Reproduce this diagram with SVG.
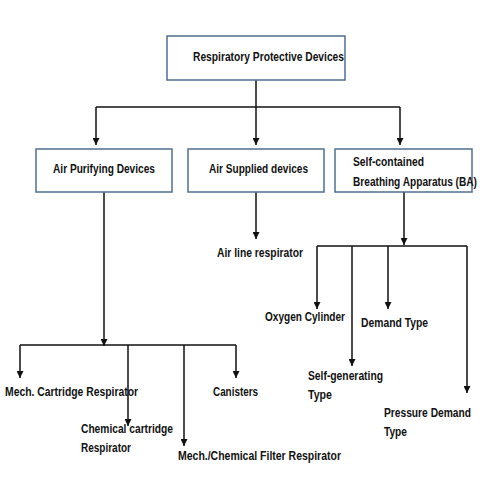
<svg xmlns="http://www.w3.org/2000/svg" width="480" height="480" viewBox="0 0 480 480">
<style>
.box{fill:#fff;stroke:#4f6f8f;stroke-width:1.5}
.t{font-family:"Liberation Sans",Arial,sans-serif;font-weight:bold;font-size:12px;fill:#111}
.c{fill:none;stroke:#111;stroke-width:1.5}
</style>
<defs>
<marker id="ah" viewBox="0 0 10 10" refX="10" refY="5" markerWidth="7" markerHeight="7" markerUnits="userSpaceOnUse" orient="auto">
<path d="M0,0 L10,5 L0,10 z" fill="#111"/>
</marker>
</defs>
<rect width="480" height="480" fill="#fff"/>
<g id="connectors">
<path class="c" d="M256,80 V107"/>
<path class="c" d="M96,107 H400"/>
<path class="c" d="M96,107 V145" marker-end="url(#ah)"/>
<path class="c" d="M256,107 V145" marker-end="url(#ah)"/>
<path class="c" d="M400,107 V145" marker-end="url(#ah)"/>
<path class="c" d="M256,192 V239" marker-end="url(#ah)"/>
<path class="c" d="M404,192 V245" marker-end="url(#ah)"/>
<path class="c" d="M317,246 H467"/>
<path class="c" d="M317,246 V309" marker-end="url(#ah)"/>
<path class="c" d="M352,246 V366" marker-end="url(#ah)"/>
<path class="c" d="M388,246 V309" marker-end="url(#ah)"/>
<path class="c" d="M467,246 V393" marker-end="url(#ah)"/>
<path class="c" d="M104,192 V346" marker-end="url(#ah)"/>
<path class="c" d="M20,345 H236"/>
<path class="c" d="M20,345 V378" marker-end="url(#ah)"/>
<path class="c" d="M128,345 V426" marker-end="url(#ah)"/>
<path class="c" d="M184,345 V446" marker-end="url(#ah)"/>
<path class="c" d="M236,345 V378" marker-end="url(#ah)"/>
</g>
<g id="root">
<rect class="box" x="167" y="36" width="178" height="44"/>
<text class="t" x="193" y="61" textLength="151" lengthAdjust="spacingAndGlyphs">Respiratory Protective Devices</text>
</g>
<g id="air-purifying">
<rect class="box" x="36" y="149" width="136" height="43"/>
<text class="t" x="53" y="173" textLength="102" lengthAdjust="spacingAndGlyphs">Air Purifying Devices</text>
</g>
<g id="air-supplied">
<rect class="box" x="188" y="149" width="136" height="43"/>
<text class="t" x="209" y="173" textLength="99" lengthAdjust="spacingAndGlyphs">Air Supplied devices</text>
</g>
<g id="scba">
<rect class="box" x="335" y="149" width="137" height="43"/>
<text class="t" x="353" y="166" textLength="71" lengthAdjust="spacingAndGlyphs">Self-contained</text>
<text class="t" x="353" y="186" textLength="124" lengthAdjust="spacingAndGlyphs">Breathing Apparatus (BA)</text>
</g>
<g id="air-line">
<text class="t" x="217" y="257" textLength="86" lengthAdjust="spacingAndGlyphs">Air line respirator</text>
</g>
<g id="oxygen-cylinder">
<text class="t" x="265" y="321" textLength="80" lengthAdjust="spacingAndGlyphs">Oxygen Cylinder</text>
</g>
<g id="demand-type">
<text class="t" x="361" y="327" textLength="67" lengthAdjust="spacingAndGlyphs">Demand Type</text>
</g>
<g id="self-generating">
<text class="t" x="308" y="380" textLength="75" lengthAdjust="spacingAndGlyphs">Self-generating</text>
<text class="t" x="308" y="399" textLength="24" lengthAdjust="spacingAndGlyphs">Type</text>
</g>
<g id="pressure-demand">
<text class="t" x="384" y="417" textLength="87" lengthAdjust="spacingAndGlyphs">Pressure Demand</text>
<text class="t" x="384" y="436" textLength="23" lengthAdjust="spacingAndGlyphs">Type</text>
</g>
<g id="mech-cartridge">
<text class="t" x="5" y="396" textLength="133" lengthAdjust="spacingAndGlyphs">Mech. Cartridge Respirator</text>
</g>
<g id="canisters">
<text class="t" x="213" y="396" textLength="45" lengthAdjust="spacingAndGlyphs">Canisters</text>
</g>
<g id="chemical-cartridge">
<text class="t" x="81" y="433" textLength="92" lengthAdjust="spacingAndGlyphs">Chemical cartridge</text>
<text class="t" x="81" y="452" textLength="50" lengthAdjust="spacingAndGlyphs">Respirator</text>
</g>
<g id="mech-chemical-filter">
<text class="t" x="178" y="460" textLength="163" lengthAdjust="spacingAndGlyphs">Mech./Chemical Filter Respirator</text>
</g>
</svg>
